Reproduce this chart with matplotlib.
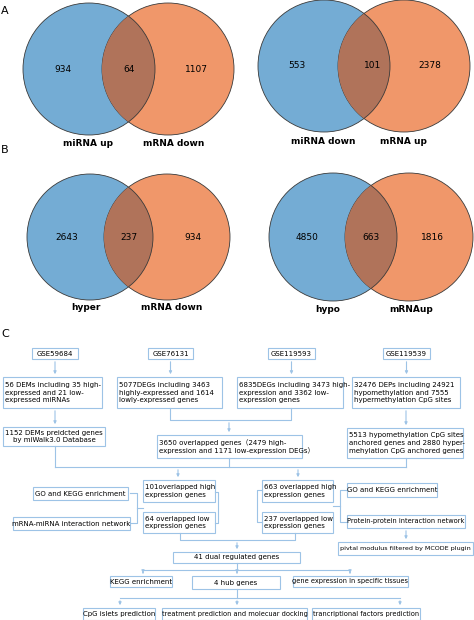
import matplotlib
matplotlib.use("Agg")
import matplotlib.pyplot as plt
from matplotlib.patches import Circle, Rectangle

# Venn data
venn_sets = [["miRNA up", "mRNA down"], ["miRNA down", "mRNA up"], ["hyper", "mRNA down"], ["hypo", "mRNAup"]]
venn_counts = [[934, 64, 1107], [553, 101, 2378], [2643, 237, 934], [4850, 663, 1816]]

# flowchart texts
gse = ["GSE59684", "GSE76131", "GSE119593", "GSE119539"]
row2 = ["56 DEMs including 35 high-\nexpressed and 21 low-\nexpressed miRNAs",
        "5077DEGs including 3463\nhighly-expressed and 1614\nlowly-expressed genes",
        "6835DEGs including 3473 high-\nexpression and 3362 low-\nexpression genes",
        "32476 DEPs including 24921\nhypomethylation and 7555\nhypermethylation CpG sites"]
row3 = ["1152 DEMs preidcted genes\nby miWalk3.0 Database",
        "3650 overlapped genes（2479 high-\nexpression and 1171 low-expression DEGs）",
        "5513 hypomethylation CpG sites\nanchored genes and 2880 hyper-\nmehylation CpG anchored genes"]

plt.rcParams['font.family'] = ['DejaVu Sans', 'Noto Sans CJK SC']
W, H = 474, 620
fig = plt.figure(figsize=(W/100, H/100), dpi=100)
ax = fig.add_axes([0, 0, 1, 1])
ax.set_xlim(0, W); ax.set_ylim(H, 0); ax.axis("off")

blue, orange, mid = "#74acd4", "#f0976a", "#b0735a"
# (x1, x2, yc, r, label y)
venn_pos = [(89, 168, 69, 66, 144), (324, 404, 66, 66, 141),
            (90, 167, 237, 63, 307), (333, 409, 237, 64, 309)]
num_x = [(63, 129, 196), (297, 373, 430), (67, 129, 193), (307, 371, 432)]
lab_x = [(88, 174), (323, 403), (86, 172), (328, 411)]
for i, (x1, x2, yc, r, ly) in enumerate(venn_pos):
    c1 = Circle((x1, yc), r, fc=blue, ec="#3a3a3a", lw=0.6)
    c2 = Circle((x2, yc), r, fc=orange, ec="#3a3a3a", lw=0.6)
    ax.add_patch(c1); ax.add_patch(c2)
    c3 = Circle((x1, yc), r, fc=mid, ec="#3a3a3a", lw=0.6)
    ax.add_patch(c3); c3.set_clip_path(c2)
    for x, v in zip(num_x[i], venn_counts[i]):
        ax.text(x, yc, str(v), ha="center", va="center", fontsize=6.5)
    for x, s in zip(lab_x[i], venn_sets[i]):
        ax.text(x, ly, s, ha="center", va="center", fontsize=6.5, fontweight="bold")
for s, y in [("A", 11), ("B", 150), ("C", 334)]:
    ax.text(1, y, s, fontsize=8, va="center")

ec = "#9dc3e6"
fs = 5.0
def box(x0, x1, y0, y1, txt, ha="center", size=fs):
    ax.add_patch(Rectangle((x0, y0), x1-x0, y1-y0, fc="white", ec=ec, lw=0.8))
    if ha == "center":
        ax.text((x0+x1)/2, (y0+y1)/2, txt, ha="center", va="center", fontsize=size, linespacing=1.3)
    else:
        ax.text(x0+2, (y0+y1)/2, txt, ha="left", va="center", fontsize=size, linespacing=1.3)
def line(xs, ys):
    ax.plot(xs, ys, color=ec, lw=0.8)
def arrow(x, y0, y1):
    ax.annotate("", xy=(x, y1), xytext=(x, y0),
                arrowprops=dict(arrowstyle="-|>", color=ec, lw=0.8, mutation_scale=4))

gse_x = [(32, 78), (148, 193), (268, 315), (383, 430)]
r2_x = [(3, 102), (117, 222), (237, 343), (352, 460)]
for (a, b), t in zip(gse_x, gse):
    box(a, b, 348, 359, t)
for (a, b), (c, d), t in zip(gse_x, r2_x, row2):
    arrow((a+b)/2, 359, 377)
    box(c, d, 377, 408, t, ha="left")
box(3, 105, 427, 446, row3[0])
box(157, 302, 435, 458, row3[1], ha="left")
box(347, 463, 428, 458, row3[2], ha="left")
arrow(55, 408, 427)
arrow(406, 408, 428)
line([170, 170, 291, 291], [408, 420, 420, 408])
arrow(229, 420, 435)
line([55, 55], [446, 467]); line([229, 229], [458, 467]); line([406, 406], [458, 467])
line([55, 406], [467, 467])
arrow(178, 467, 480); arrow(298, 467, 480)

box(143, 215, 480, 502, "101overlapped high\nexpression genes", ha="left")
box(143, 215, 512, 533, "64 overlapped low\nexpression genes", ha="left")
box(262, 333, 480, 502, "663 overlapped high\nexpression genes", ha="left")
box(262, 333, 512, 533, "237 overlapped low\nexpression genes", ha="left")
box(33, 128, 487, 500, "GO and KEGG enrichment")
box(13, 130, 517, 530, "mRNA-miRNA interaction network")
box(347, 437, 483, 497, "GO and KEGG enrichment")
box(347, 465, 515, 528, "Protein-protein interaction network", size=4.8)
box(338, 473, 542, 555, "pivtal modulus filtered by MCODE plugin", size=4.6)
line([130, 137, 137, 130], [493, 493, 523, 523]); line([137, 143], [508, 508])
line([215, 218, 218, 215], [492, 492, 523, 523])
line([262, 257, 257, 262], [490, 490, 522, 522])
line([347, 340, 340, 347], [490, 490, 522, 522]); line([333, 340], [506, 506])
arrow(406, 528, 542)
line([180, 180, 295, 295], [533, 540, 540, 533])
arrow(237, 540, 552)
box(173, 300, 552, 563, "41 dual regulated genes")
line([237, 237], [563, 570]); line([143, 350], [570, 570])
for x in (143, 237, 350):
    arrow(x, 570, 576)
box(110, 172, 576, 587, "KEGG enrichment")
box(192, 280, 576, 589, "4 hub genes")
box(293, 408, 576, 587, "gene expression in specific tissues", size=4.8)
line([237, 237], [589, 598]); line([120, 400], [598, 598])
for x in (120, 237, 400):
    arrow(x, 598, 608)
box(83, 155, 608, 620, "CpG islets prediction")
box(162, 307, 608, 620, "treatment prediction and molecuar docking", size=4.8)
box(312, 420, 608, 620, "trancriptional factors prediction", size=4.8)

fig.savefig("out.png", dpi=100)
